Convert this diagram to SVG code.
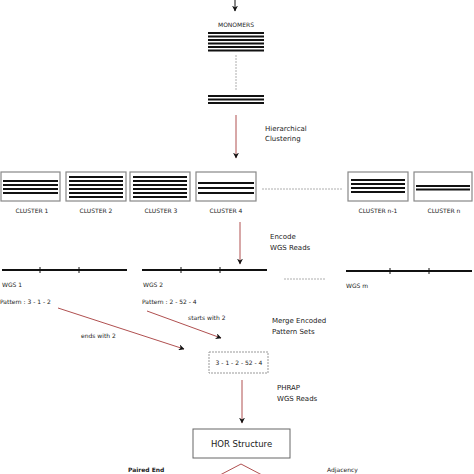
<svg xmlns="http://www.w3.org/2000/svg" width="474" height="474" viewBox="0 0 474 474">
<style>
text{font-family:"DejaVu Sans","Liberation Sans",sans-serif;fill:#222}
.s{font-size:6px}
.m{font-size:7px}
.bar{stroke:#111;stroke-width:1.8}
.box{fill:#fff;stroke:#888;stroke-width:1.2}
.red{stroke:#b05050;stroke-width:1;fill:none}
.dash{stroke:#999;stroke-width:0.8;stroke-dasharray:2,1;fill:none}
.blk{stroke:#111;stroke-width:1;fill:none}
.wgs{stroke:#111;stroke-width:1.8}
</style>
<defs>
<marker id="ah" viewBox="0 0 10 10" refX="9" refY="5" markerWidth="6" markerHeight="6" orient="auto" markerUnits="userSpaceOnUse"><path d="M0,0 L10,5 L0,10 L3,5 z" fill="#111"/></marker>
</defs>
<g id="connectors">
<line x1="235" y1="0" x2="235" y2="11" class="blk" marker-end="url(#ah)"/>
<line x1="236" y1="55" x2="236" y2="91" class="dash"/>
<line x1="236" y1="115" x2="236" y2="158" class="red" marker-end="url(#ah)"/>
<line x1="240" y1="222" x2="240" y2="264" class="red" marker-end="url(#ah)"/>
<line x1="58" y1="308" x2="184" y2="349" class="red" marker-end="url(#ah)"/>
<line x1="147" y1="311" x2="221" y2="338" class="red" marker-end="url(#ah)"/>
<line x1="242" y1="380" x2="242" y2="423" class="red" marker-end="url(#ah)"/>
<line x1="262" y1="189" x2="342" y2="189" class="dash"/>
<line x1="284" y1="279" x2="325" y2="279" class="dash"/>
</g>
<g id="monomers">
<text x="236" y="27" class="s" text-anchor="middle">MONOMERS</text>
<line x1="208" y1="33" x2="264" y2="33" class="bar"/>
<line x1="208" y1="36.5" x2="264" y2="36.5" class="bar"/>
<line x1="208" y1="40" x2="264" y2="40" class="bar"/>
<line x1="208" y1="43.5" x2="264" y2="43.5" class="bar"/>
<line x1="208" y1="47" x2="264" y2="47" class="bar"/>
<line x1="208" y1="50.5" x2="264" y2="50.5" class="bar"/>
</g>
<g id="monomers-bottom">
<line x1="208" y1="96" x2="264" y2="96" class="bar"/>
<line x1="208" y1="99.5" x2="264" y2="99.5" class="bar"/>
<line x1="208" y1="103" x2="264" y2="103" class="bar"/>
</g>
<g id="label-hier">
<text x="265" y="131" class="m">Hierarchical</text>
<text x="265" y="141" class="m">Clustering</text>
</g>
<g id="cluster1">
<rect x="1" y="172" width="59" height="29" class="box"/>
<line x1="3" y1="181" x2="58" y2="181" class="bar"/>
<line x1="3" y1="185" x2="58" y2="185" class="bar"/>
<line x1="3" y1="189" x2="58" y2="189" class="bar"/>
<line x1="3" y1="193" x2="58" y2="193" class="bar"/>
<text x="32" y="213" class="s" text-anchor="middle">CLUSTER 1</text>
</g>
<g id="cluster2">
<rect x="66" y="172" width="60" height="29" class="box"/>
<line x1="69" y1="177" x2="123" y2="177" class="bar"/>
<line x1="69" y1="181" x2="123" y2="181" class="bar"/>
<line x1="69" y1="185" x2="123" y2="185" class="bar"/>
<line x1="69" y1="189" x2="123" y2="189" class="bar"/>
<line x1="69" y1="193" x2="123" y2="193" class="bar"/>
<line x1="69" y1="197" x2="123" y2="197" class="bar"/>
<text x="96" y="213" class="s" text-anchor="middle">CLUSTER 2</text>
</g>
<g id="cluster3">
<rect x="130" y="172" width="60" height="29" class="box"/>
<line x1="133" y1="177" x2="187" y2="177" class="bar"/>
<line x1="133" y1="181" x2="187" y2="181" class="bar"/>
<line x1="133" y1="185" x2="187" y2="185" class="bar"/>
<line x1="133" y1="189" x2="187" y2="189" class="bar"/>
<line x1="133" y1="193" x2="187" y2="193" class="bar"/>
<line x1="133" y1="197" x2="187" y2="197" class="bar"/>
<text x="161" y="213" class="s" text-anchor="middle">CLUSTER 3</text>
</g>
<g id="cluster4">
<rect x="196" y="172" width="60" height="29" class="box"/>
<line x1="198" y1="183" x2="254" y2="183" class="bar"/>
<line x1="198" y1="188" x2="254" y2="188" class="bar"/>
<line x1="198" y1="193" x2="254" y2="193" class="bar"/>
<text x="226" y="213" class="s" text-anchor="middle">CLUSTER 4</text>
</g>
<g id="clusterN1">
<rect x="348" y="172" width="60" height="29" class="box"/>
<line x1="351" y1="180" x2="405" y2="180" class="bar"/>
<line x1="351" y1="184" x2="405" y2="184" class="bar"/>
<line x1="351" y1="188" x2="405" y2="188" class="bar"/>
<line x1="351" y1="192" x2="405" y2="192" class="bar"/>
<text x="378" y="213" class="s" text-anchor="middle">CLUSTER n-1</text>
</g>
<g id="clusterN">
<rect x="414" y="172" width="58" height="29" class="box"/>
<line x1="416" y1="186" x2="470" y2="186" class="bar"/>
<line x1="416" y1="189.5" x2="470" y2="189.5" class="bar"/>
<text x="444" y="213" class="s" text-anchor="middle">CLUSTER n</text>
</g>
<g id="label-encode">
<text x="270" y="239" class="m">Encode</text>
<text x="270" y="250" class="m">WGS Reads</text>
</g>
<g id="wgs1">
<line x1="2" y1="270" x2="127" y2="270" class="wgs"/>
<line x1="40" y1="267" x2="40" y2="273" class="blk"/>
<line x1="79" y1="267" x2="79" y2="273" class="blk"/>
<text x="2" y="287" class="s">WGS 1</text>
<text x="0" y="304" class="s">Pattern : 3 - 1 - 2</text>
</g>
<g id="wgs2">
<line x1="142" y1="270" x2="267" y2="270" class="wgs"/>
<line x1="181" y1="267" x2="181" y2="273" class="blk"/>
<line x1="220" y1="267" x2="220" y2="273" class="blk"/>
<text x="143" y="287" class="s">WGS 2</text>
<text x="142" y="304" class="s">Pattern : 2 - 52 - 4</text>
</g>
<g id="wgsm">
<line x1="346" y1="271" x2="472" y2="271" class="wgs"/>
<line x1="390" y1="268" x2="390" y2="274" class="blk"/>
<line x1="429" y1="268" x2="429" y2="274" class="blk"/>
<text x="346" y="288" class="s">WGS m</text>
</g>
<g id="edge-labels">
<text x="188" y="320" class="s">starts with 2</text>
<text x="81" y="338" class="s">ends with 2</text>
<text x="272" y="323" class="m">Merge Encoded</text>
<text x="272" y="334" class="m">Pattern Sets</text>
</g>
<g id="merged">
<rect x="209" y="352" width="59" height="21" class="dash" style="stroke-width:1"/>
<text x="239" y="365" class="s" text-anchor="middle">3 - 1 - 2 - 52 - 4</text>
</g>
<g id="label-phrap">
<text x="277" y="390" class="m">PHRAP</text>
<text x="277" y="401" class="m">WGS Reads</text>
</g>
<g id="hor">
<rect x="193" y="429" width="97" height="29" fill="#fff" stroke="#666" stroke-width="1"/>
<text x="241.5" y="447" text-anchor="middle" style="font-size:8.5px">HOR Structure</text>
</g>
<g id="diamond">
<polyline points="220,475 241,464 262,475" class="red"/>
</g>
<g id="bottom-labels">
<text x="128" y="472" class="s" font-weight="bold">Paired End</text>
<text x="327" y="472" class="s">Adjacency</text>
</g>
</svg>
